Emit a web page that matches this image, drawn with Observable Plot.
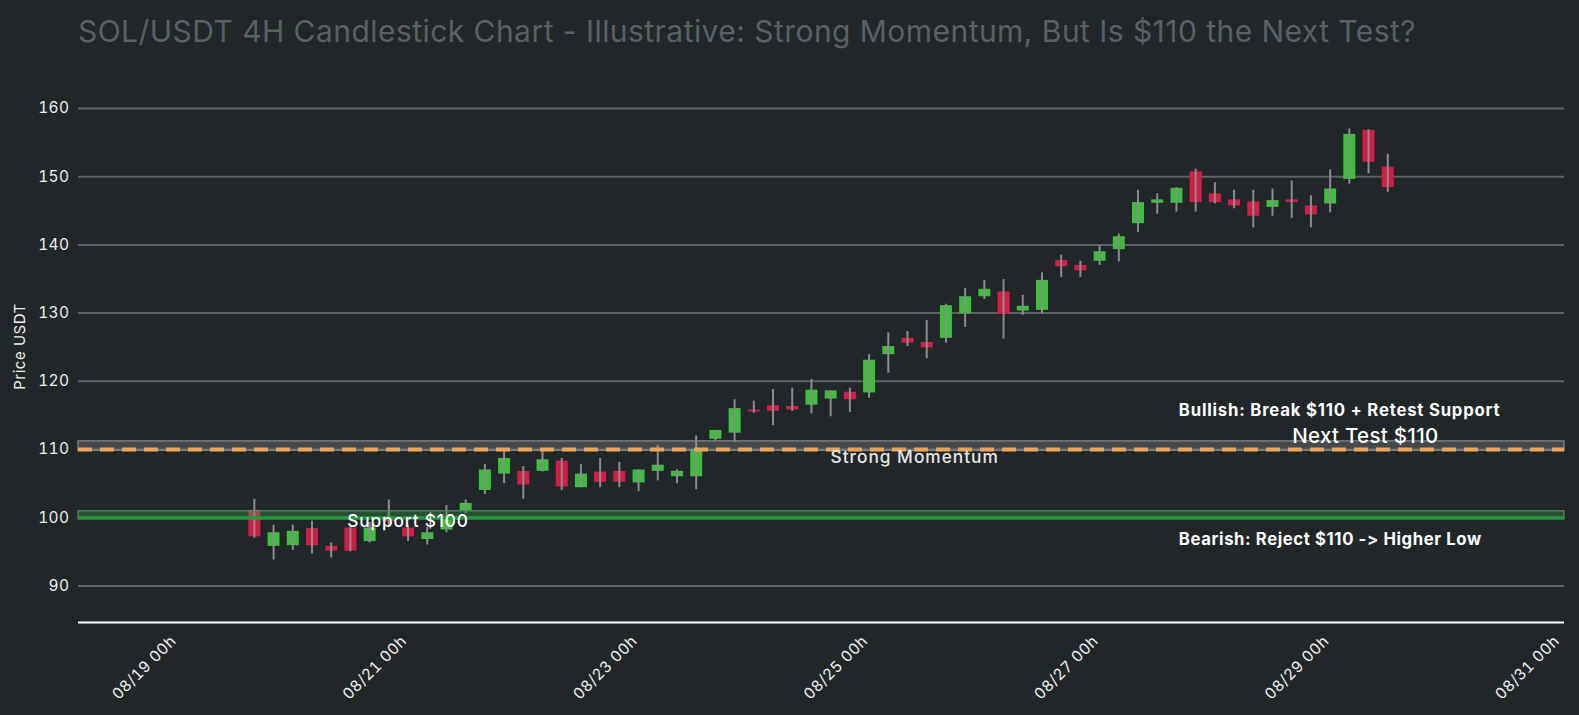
<!DOCTYPE html>
<html><head><meta charset="utf-8">
<script src="https://cdn.jsdelivr.net/npm/d3@7"></script>
<script src="https://cdn.jsdelivr.net/npm/@observablehq/plot@0.6"></script>
<style>
html,body{margin:0;padding:0;background:#212629;overflow:hidden;}
#title{height:60px;line-height:62px;padding-left:78px;font-family:Inter,sans-serif;font-size:30px;letter-spacing:0.45px;color:#5b6064;white-space:nowrap;font-feature-settings:"calt" 0;}
svg text{font-feature-settings:"calt" 0;}
</style></head><body>
<div id="title">SOL/USDT 4H Candlestick Chart - Illustrative: Strong Momentum, But Is $110 the Next Test?</div>
<div id="chart"></div>
<script>
const times = [
 "2024-08-19T16:00Z","2024-08-19T20:00Z","2024-08-20T00:00Z","2024-08-20T04:00Z","2024-08-20T08:00Z","2024-08-20T12:00Z",
 "2024-08-20T16:00Z","2024-08-20T20:00Z","2024-08-21T00:00Z","2024-08-21T04:00Z","2024-08-21T08:00Z","2024-08-21T12:00Z",
 "2024-08-21T16:00Z","2024-08-21T20:00Z","2024-08-22T00:00Z","2024-08-22T04:00Z","2024-08-22T08:00Z","2024-08-22T12:00Z",
 "2024-08-22T16:00Z","2024-08-22T20:00Z","2024-08-23T00:00Z","2024-08-23T04:00Z","2024-08-23T08:00Z","2024-08-23T12:00Z",
 "2024-08-23T16:00Z","2024-08-23T20:00Z","2024-08-24T00:00Z","2024-08-24T04:00Z","2024-08-24T08:00Z","2024-08-24T12:00Z",
 "2024-08-24T16:00Z","2024-08-24T20:00Z","2024-08-25T00:00Z","2024-08-25T04:00Z","2024-08-25T08:00Z","2024-08-25T12:00Z",
 "2024-08-25T16:00Z","2024-08-25T20:00Z","2024-08-26T00:00Z","2024-08-26T04:00Z","2024-08-26T08:00Z","2024-08-26T12:00Z",
 "2024-08-26T16:00Z","2024-08-26T20:00Z","2024-08-27T00:00Z","2024-08-27T04:00Z","2024-08-27T08:00Z","2024-08-27T12:00Z",
 "2024-08-27T16:00Z","2024-08-27T20:00Z","2024-08-28T00:00Z","2024-08-28T04:00Z","2024-08-28T08:00Z","2024-08-28T12:00Z",
 "2024-08-28T16:00Z","2024-08-28T20:00Z","2024-08-29T00:00Z","2024-08-29T04:00Z","2024-08-29T08:00Z","2024-08-29T12:00Z"
];
const opens = [101.1,95.8,95.9,98.4,95.8,98.5,96.5,100.0,98.5,96.8,98.2,101.0,
 104.0,106.4,106.8,106.8,108.3,104.4,106.7,106.8,105.1,106.8,106.0,106.0,
 111.5,112.4,115.8,116.4,116.3,116.5,117.4,118.4,118.3,123.9,126.3,125.7,
 126.3,129.9,132.4,133.1,130.3,130.4,137.7,137.0,137.6,139.3,143.1,146.1,
 146.1,150.7,147.5,146.6,146.3,145.5,146.6,145.7,146.0,149.6,156.8,151.4];
const highs = [102.7,98.9,98.9,99.5,96.3,98.6,99.3,102.6,98.9,98.6,101.8,102.6,
 107.8,109.7,107.5,109.7,108.7,107.8,108.7,108.1,107.0,110.6,107.0,112.0,
 112.8,117.3,117.1,118.8,119.0,120.3,118.6,119.0,123.9,127.1,127.3,128.9,
 131.3,133.6,134.8,134.9,132.6,135.9,138.5,137.6,139.9,141.6,148.0,147.5,
 148.4,151.1,149.1,148.0,148.0,148.2,149.4,147.2,151.0,157.0,156.9,153.3];
const lows = [97.0,93.8,95.2,94.7,94.1,95.0,96.3,98.8,96.5,96.0,97.8,100.6,
 103.4,105.0,102.7,106.7,104.0,104.4,104.4,104.4,103.8,105.4,105.0,104.1,
 111.2,111.1,115.3,113.5,115.6,115.2,114.8,115.4,117.5,121.2,125.1,123.3,
 125.6,127.9,132.0,126.2,129.7,129.9,135.2,135.2,137.0,137.5,141.8,144.5,
 144.8,144.8,146.0,145.3,142.5,144.2,143.9,142.5,144.7,148.9,150.4,147.7];
const closes = [97.2,97.8,98.0,95.9,95.1,95.1,98.5,99.4,97.2,97.8,100.2,102.1,
 107.0,108.7,104.8,108.5,104.5,106.4,105.2,105.2,107.0,107.7,106.8,110.0,
 112.8,116.0,115.5,115.6,115.8,118.7,118.6,117.3,123.1,125.1,125.6,124.9,
 131.1,132.4,133.5,129.8,131.0,134.8,136.8,136.2,139.0,141.2,146.2,146.6,
 148.3,146.2,146.2,145.7,144.2,146.5,146.2,144.4,148.2,156.2,152.1,148.4];

const xTickDates = ["2024-08-19T00:00Z","2024-08-21T00:00Z","2024-08-23T00:00Z","2024-08-25T00:00Z","2024-08-27T00:00Z","2024-08-29T00:00Z","2024-08-31T00:00Z"];
const yTicks = [90,100,110,120,130,140,150,160];
const supportLevel = 100;
const resistanceLevel = 110;
const supportBand = {lo: 99.75, hi: 100.95};
const resistanceBand = {lo: 109.8, hi: 111.2};
const annotations = [
  {t: "2024-08-21T00:00Z", v: 99.4, text: "Support $100", size: 17.3, ls: 0.85, anchor: "middle", weight: 500, color: "#ffffff"},
  {t: "2024-08-25T09:30Z", v: 108.8, text: "Strong Momentum", size: 17.3, ls: 1.0, anchor: "middle", weight: 500, color: "#e6e6e6"},
  {t: "2024-08-29T07:20Z", v: 111.9, text: "Next Test $110", size: 20.5, ls: 0.3, anchor: "middle", weight: 500, color: "#ffffff"},
  {t: "2024-08-27T16:30Z", v: 115.7, text: "Bullish: Break $110 + Retest Support", size: 16.7, ls: 0.8, anchor: "start", weight: 700, color: "#ffffff"},
  {t: "2024-08-27T16:30Z", v: 96.8, text: "Bearish: Reject $110 -> Higher Low", size: 16.7, ls: 0.6, anchor: "start", weight: 700, color: "#ffffff"}
];
const yAxisLabel = "Price USDT";
const xDomain = ["2024-08-18T03:23Z", "2024-08-31T00:48Z"];
const yDomain = [84.64, 165.57];

const candles = times.map((t, i) => ({date: new Date(t), open: opens[i], high: highs[i], low: lows[i], close: closes[i]}));
const up = candles.filter(d => d.close >= d.open);
const down = candles.filter(d => d.close < d.open);
const ann = annotations.map(a => ({...a, date: new Date(a.t)}));

const GREEN = "#3ebd3e", RED = "#d21e46";

const chart = Plot.plot({
  width: 1579, height: 655,
  marginLeft: 78, marginRight: 15, marginTop: 10, marginBottom: 93,
  style: {background: "#212629", color: "#eeeeee", fontFamily: "Inter, sans-serif", fontSize: "15.5px", overflow: "visible"},
  x: {type: "utc", domain: xDomain.map(d => new Date(d))},
  y: {domain: yDomain},
  marks: [
    Plot.gridY(yTicks, {stroke: "#5d6164", strokeOpacity: 1, strokeWidth: 2}),
    Plot.ruleX(up, {x: "date", y1: "open", y2: "close", stroke: GREEN, strokeWidth: 12}),
    Plot.ruleX(down, {x: "date", y1: "open", y2: "close", stroke: RED, strokeWidth: 12}),
    Plot.ruleX(candles, {x: "date", y1: "low", y2: "high", stroke: "#8c8c8c", strokeWidth: 2}),
    Plot.rect([resistanceBand], {y1: "lo", y2: "hi", fill: "#9a9a9a", fillOpacity: 0.3, stroke: "#8a8a8a", strokeOpacity: 0.8, strokeWidth: 1.5}),
    Plot.rect([supportBand], {y1: "lo", y2: "hi", fill: "#3aa04a", fillOpacity: 0.35, stroke: "#5a8a60", strokeOpacity: 0.8, strokeWidth: 1.5}),
    Plot.ruleY([supportLevel], {stroke: "#1f9a3a", strokeWidth: 3}),
    Plot.ruleY([resistanceLevel], {stroke: "#f0a254", strokeWidth: 4, strokeDasharray: "14,8"}),
    ...ann.map(a => Plot.text([a], {x: "date", y: "v", text: "text", fontSize: a.size, textAnchor: a.anchor, fontWeight: a.weight, fill: a.color})),
    Plot.ruleY([yDomain[0]], {stroke: "#ffffff", strokeWidth: 2}),
    Plot.axisY({ticks: yTicks, tickSize: 0, tickPadding: 9, label: null, fontSize: 15.5, color: "#eeeeee"}),
    Plot.axisX({ticks: xTickDates.map(d => new Date(d)), tickFormat: d3.utcFormat("%m/%d %Hh"), tickRotate: -45, tickSize: 0, tickPadding: 16, dx: -4, label: null, fontSize: 15.5}),
    Plot.text([yAxisLabel], {text: d => d, frameAnchor: "left", textAnchor: "middle", dx: -58, rotate: -90, fontSize: 15, fill: "#eeeeee"})
  ]
});
// letter spacing to mimic the wider original typeface
const spacing = new Map(annotations.map(a => [a.text, a.ls]));
chart.querySelectorAll("text").forEach(el => {
  const s = el.textContent;
  if (spacing.has(s)) el.setAttribute("letter-spacing", spacing.get(s));
  else if (s === yAxisLabel) el.setAttribute("letter-spacing", 0.5);
  else el.setAttribute("letter-spacing", 0.4);
});
document.getElementById("chart").appendChild(chart);
</script></body></html>
